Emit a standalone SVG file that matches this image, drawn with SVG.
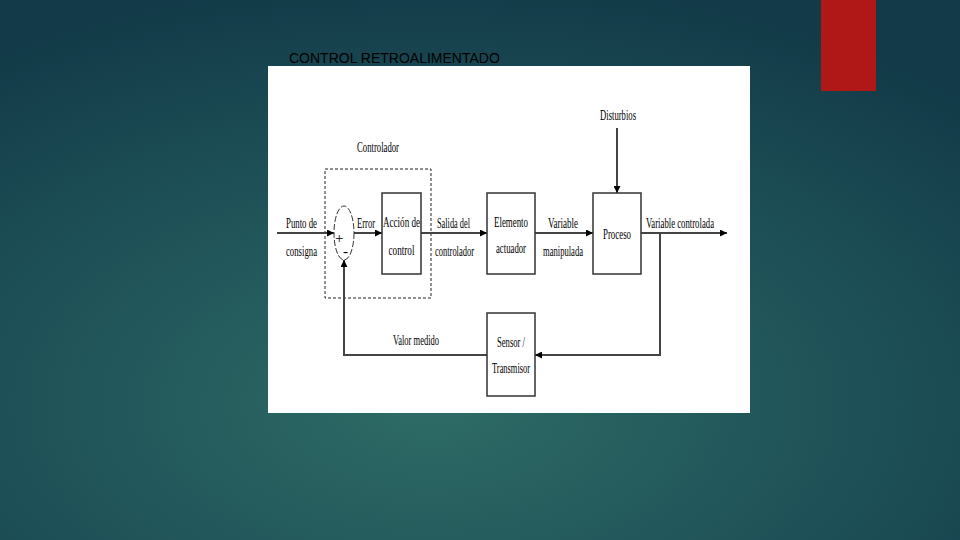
<svg xmlns="http://www.w3.org/2000/svg" width="960" height="540" viewBox="0 0 960 540">
<defs>
<radialGradient id="bg" cx="0.45" cy="0.75" r="0.8">
<stop offset="0" stop-color="#2e6b66"/><stop offset="0.6" stop-color="#1d4f56"/><stop offset="1" stop-color="#123a48"/>
</radialGradient>
<marker id="ar" viewBox="0 0 10 10" refX="10" refY="5" markerWidth="7" markerHeight="7" markerUnits="userSpaceOnUse" orient="auto"><path d="M0,0L10,5L0,10z" fill="#000"/></marker>
<style>
.b{fill:#fff;stroke:#333;stroke-width:1.5}
.l{stroke:#444;stroke-width:2;fill:none}
.t{font-family:"Liberation Serif",serif;font-size:15px;fill:#000}
</style>
</defs>
<rect width="960" height="540" fill="url(#bg)"/>
<rect x="821" y="0" width="55" height="91" fill="#b01818"/>
<text x="289" y="63" font-family="Liberation Sans,Arial,sans-serif" font-size="14" fill="#000">CONTROL RETROALIMENTADO</text>
<rect x="268" y="66" width="482" height="347" fill="#fff"/>
<rect x="325" y="169" width="106" height="129" fill="none" stroke="#222" stroke-dasharray="3,2"/>
<g id="connectors">
<line class="l" x1="277" y1="233" x2="334" y2="233" marker-end="url(#ar)"/>
<line class="l" x1="354" y1="233" x2="382" y2="233" marker-end="url(#ar)"/>
<line class="l" x1="421" y1="233" x2="487" y2="233" marker-end="url(#ar)"/>
<line class="l" x1="535" y1="233" x2="593" y2="233" marker-end="url(#ar)"/>
<line class="l" x1="641" y1="233" x2="727" y2="233" marker-end="url(#ar)"/>
<line class="l" x1="617" y1="128" x2="617" y2="193" stroke-width="1" marker-end="url(#ar)"/>
<polyline class="l" points="660,233 660,355 535,355" stroke-width="1" marker-end="url(#ar)"/>
<polyline class="l" points="487,355 344,355 344,260" marker-end="url(#ar)"/>
</g>
<g id="sum"><ellipse cx="344" cy="233" rx="10" ry="27" fill="#fff" stroke="#333" stroke-dasharray="6,2"/>
<text class="t" x="335" y="243">+</text><text class="t" x="343" y="256">-</text></g>
<g id="accion"><rect class="b" x="382" y="193" width="39" height="81"/>
<text class="t" x="401.5" y="227" text-anchor="middle" textLength="37" lengthAdjust="spacingAndGlyphs">Acción de</text>
<text class="t" x="401.5" y="255" text-anchor="middle" textLength="26" lengthAdjust="spacingAndGlyphs">control</text></g>
<g id="elemento"><rect class="b" x="487" y="193" width="48" height="81"/>
<text class="t" x="511" y="227" text-anchor="middle" textLength="34" lengthAdjust="spacingAndGlyphs">Elemento</text>
<text class="t" x="511" y="253" text-anchor="middle" textLength="30" lengthAdjust="spacingAndGlyphs">actuador</text></g>
<g id="proceso"><rect class="b" x="593" y="193" width="48" height="81"/>
<text class="t" x="617" y="239" text-anchor="middle" textLength="28" lengthAdjust="spacingAndGlyphs">Proceso</text></g>
<g id="sensor"><rect class="b" x="487" y="313" width="48" height="83"/>
<text class="t" x="511" y="347" text-anchor="middle" textLength="28" lengthAdjust="spacingAndGlyphs">Sensor /</text>
<text class="t" x="511" y="373" text-anchor="middle" textLength="38" lengthAdjust="spacingAndGlyphs">Transmisor</text></g>
<g id="labels">
<text class="t" x="286" y="228" textLength="31" lengthAdjust="spacingAndGlyphs">Punto de</text>
<text class="t" x="286" y="256" textLength="31" lengthAdjust="spacingAndGlyphs">consigna</text>
<text class="t" x="357" y="228" textLength="18" lengthAdjust="spacingAndGlyphs">Error</text>
<text class="t" x="437" y="228" textLength="33" lengthAdjust="spacingAndGlyphs">Salida del</text>
<text class="t" x="435" y="256" textLength="39" lengthAdjust="spacingAndGlyphs">controlador</text>
<text class="t" x="548" y="228" textLength="30" lengthAdjust="spacingAndGlyphs">Variable</text>
<text class="t" x="543" y="256" textLength="40" lengthAdjust="spacingAndGlyphs">manipulada</text>
<text class="t" x="646" y="228" textLength="68" lengthAdjust="spacingAndGlyphs">Variable controlada</text>
<text class="t" x="600" y="120" textLength="36" lengthAdjust="spacingAndGlyphs">Disturbios</text>
<text class="t" x="357" y="152" textLength="42" lengthAdjust="spacingAndGlyphs">Controlador</text>
<text class="t" x="393" y="345" textLength="46" lengthAdjust="spacingAndGlyphs">Valor medido</text>
</g>
</svg>
